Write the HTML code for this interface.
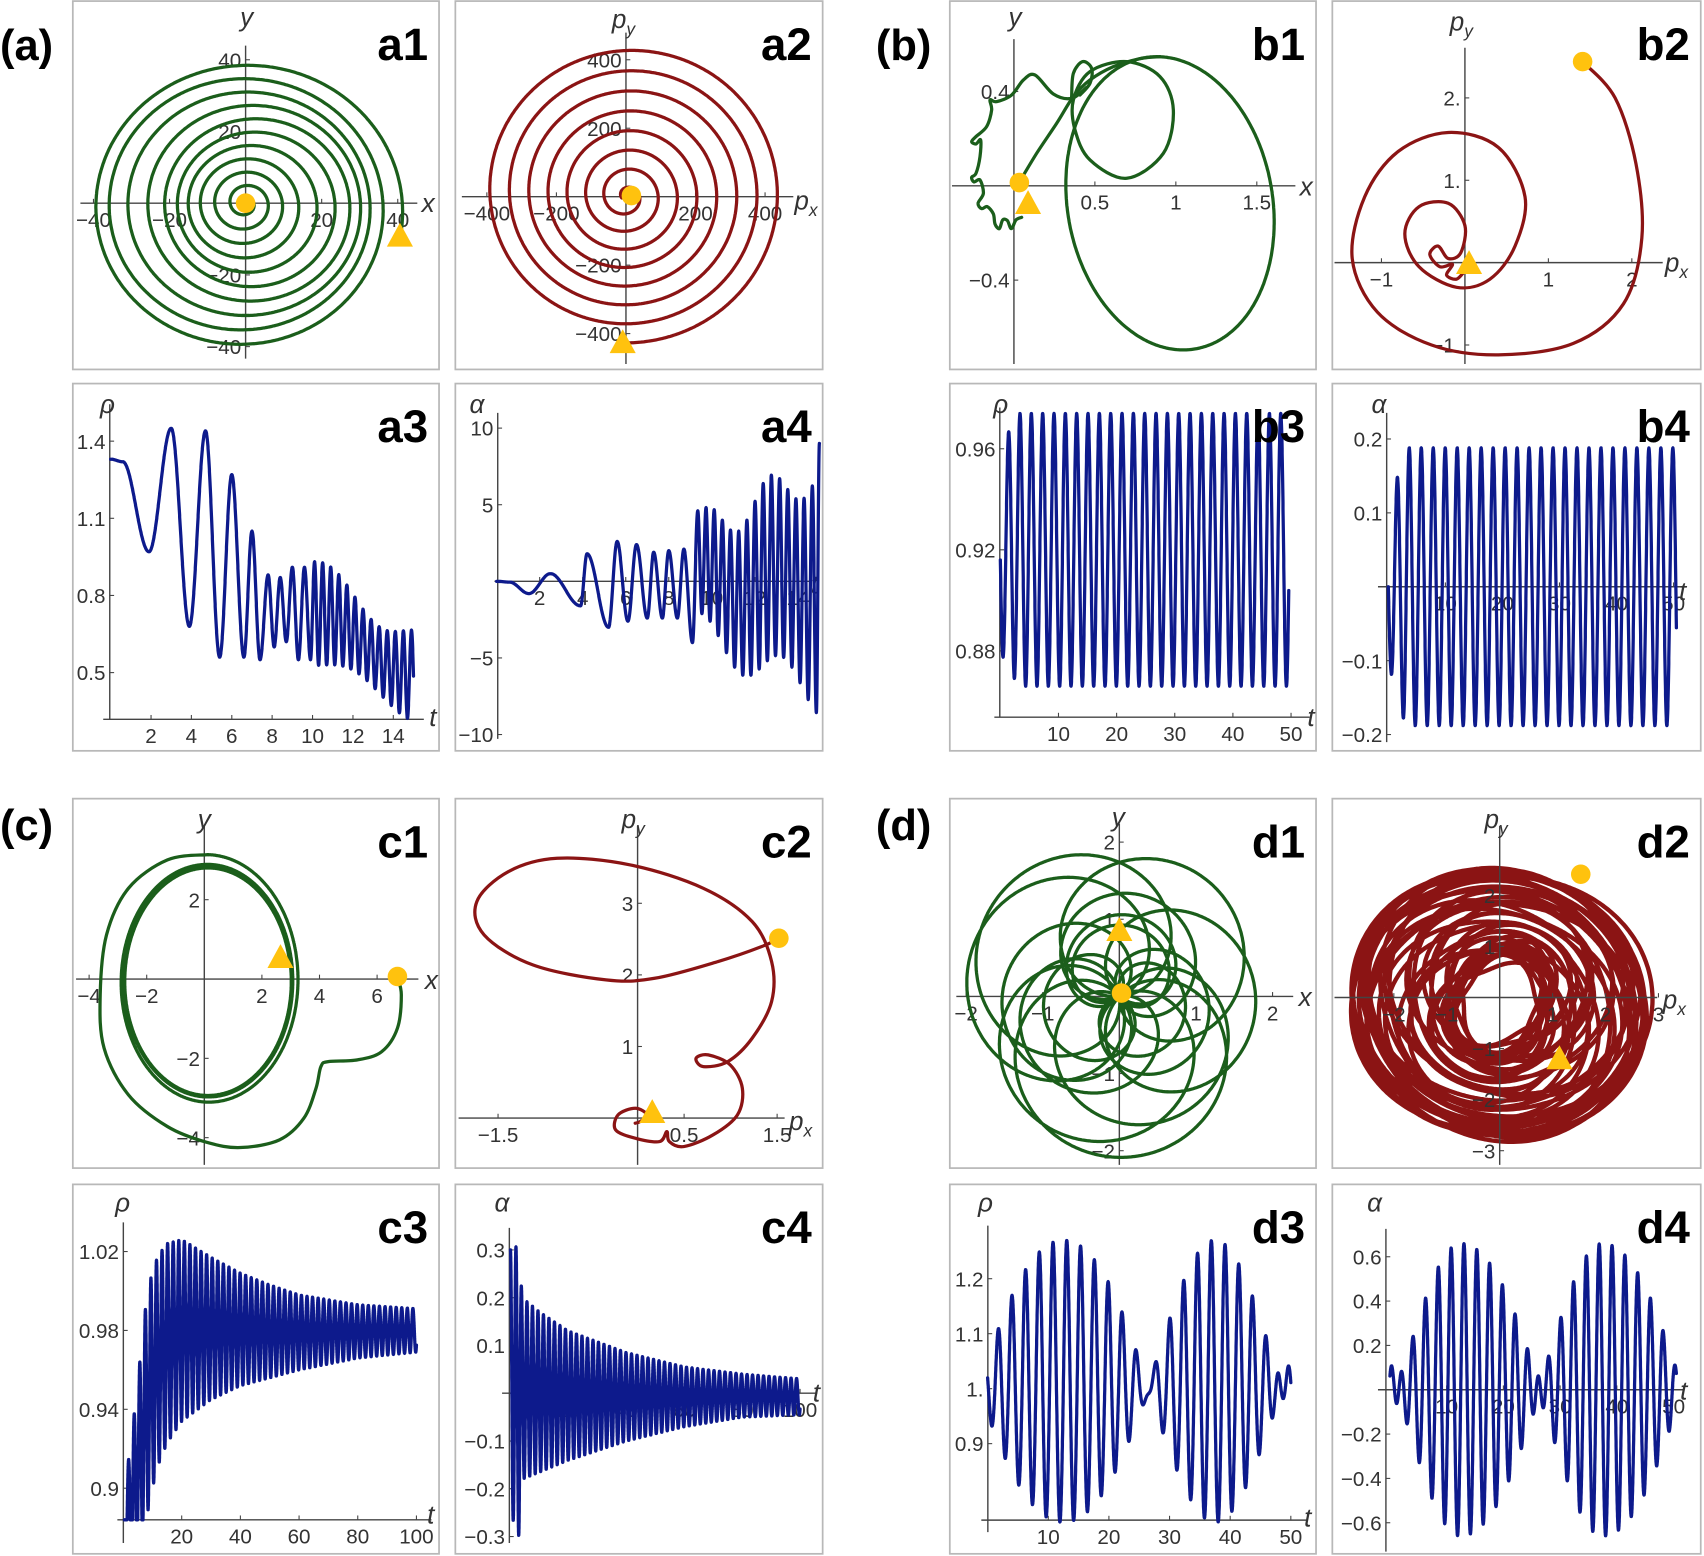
<!DOCTYPE html>
<html><head><meta charset="utf-8"><style>html,body{margin:0;padding:0;background:#fff}svg{display:block}</style></head>
<body>
<svg id="s" xmlns="http://www.w3.org/2000/svg" width="1704" height="1556" viewBox="0 0 1568 1432" preserveAspectRatio="none"></svg>
<script>
let o='';
const FF='font-family="Liberation Sans, Arial, sans-serif"';
const GR='#1b5e1b',RD='#8b1414',BL='#0d1a8c',YE='#ffc20e';
function f(n){return n.toFixed(1)}
function frame(x0,y0,x1,y1){o+=`<rect x="${x0}" y="${y0}" width="${x1-x0}" height="${y1-y0}" fill="none" stroke="#b8b8b8" stroke-width="1.6"/>`}
function txt(x,y,s,size,anchor,extra){o+=`<text x="${x}" y="${y}" font-size="${size}" text-anchor="${anchor||'start'}" ${FF} ${extra||''}>${s}</text>`}
function title(x1,y0,s){txt(x1-10,y0+54,s,42,'end','font-weight="bold" fill="#000"')}
function lab(x,y,s,sub){ if(sub) o+=`<text x="${x}" y="${y}" font-size="24" font-style="italic" ${FF} fill="#333">${s}<tspan font-size="16" dy="6">${sub}</tspan></text>`; else txt(x,y,s,24,'start','font-style="italic" fill="#333"');}
function mlab(v){return (typeof v==='string')?v:(v<0?'\u2212'+Math.abs(v):String(v))}
function axes(X,Y,xAxY,xr,yAxX,yr,xt,yt){
 o+=`<line x1="${xr[0]}" y1="${xAxY}" x2="${xr[1]}" y2="${xAxY}" stroke="#444" stroke-width="1.3"/>`;
 o+=`<line x1="${yAxX}" y1="${yr[0]}" x2="${yAxX}" y2="${yr[1]}" stroke="#444" stroke-width="1.3"/>`;
 for(const t of xt){const v=Array.isArray(t)?t[0]:t,l=Array.isArray(t)?t[1]:mlab(t);const px=X(v);
  o+=`<line x1="${f(px)}" y1="${xAxY-4}" x2="${f(px)}" y2="${xAxY}" stroke="#444" stroke-width="1"/>`;
  txt(f(px),xAxY+22,l,19,'middle','fill="#333"');}
 for(const t of yt){const v=Array.isArray(t)?t[0]:t,l=Array.isArray(t)?t[1]:mlab(t);const py=Y(v);
  o+=`<line x1="${yAxX}" y1="${f(py)}" x2="${yAxX+4}" y2="${f(py)}" stroke="#444" stroke-width="1"/>`;
  txt(yAxX-4,f(py+7),l,19,'end','fill="#333"');}
}
function poly(pts,col,w){let d='M'+f(pts[0][0])+' '+f(pts[0][1]);for(let i=1;i<pts.length;i++)d+='L'+f(pts[i][0])+' '+f(pts[i][1]);
 o+=`<path d="${d}" fill="none" stroke="${col}" stroke-width="${w}" stroke-linejoin="round" stroke-linecap="round"/>`}
function cat(p,col,w,closed){let P=p.slice();if(closed){P=[p[p.length-1]].concat(p,[p[0],p[1]]);}else{P=[p[0]].concat(p,[p[p.length-1]]);}
 let d='M'+f(P[1][0])+' '+f(P[1][1]);
 for(let i=1;i<P.length-2;i++){const a=P[i-1],b=P[i],c=P[i+1],e=P[i+2];
  d+='C'+f(b[0]+(c[0]-a[0])/6)+' '+f(b[1]+(c[1]-a[1])/6)+' '+f(c[0]-(e[0]-b[0])/6)+' '+f(c[1]-(e[1]-b[1])/6)+' '+f(c[0])+' '+f(c[1]);}
 o+=`<path d="${d}" fill="none" stroke="${col}" stroke-width="${w}" stroke-linejoin="round" stroke-linecap="round"/>`}
function dot(x,y){o+=`<circle cx="${f(x)}" cy="${f(y)}" r="9" fill="${YE}"/>`}
function tri(x,y){o+=`<polygon points="${f(x)},${f(y-13)} ${f(x-12)},${f(y+9)} ${f(x+12)},${f(y+9)}" fill="${YE}"/>`}
function ts(X,Y,fn,t0,t1,N,col,w,clipY){const p=[];for(let i=0;i<=N;i++){const t=t0+(t1-t0)*i/N;let y=Y(fn(t));if(clipY!==undefined)y=Math.min(y,clipY);p.push([X(t),y]);}poly(p,col||BL,w||3)}
function interp(tb,t){if(t<=tb[0][0])return tb[0][1];for(let i=0;i<tb.length-1;i++){if(t<=tb[i+1][0]){const s=(t-tb[i][0])/(tb[i+1][0]-tb[i][0]);return tb[i][1]+s*(tb[i+1][1]-tb[i][1]);}}return tb[tb.length-1][1]}
function ext(L){return t=>{for(let i=0;i<L.length-1;i++){if(t<=L[i+1][0]){const s=(t-L[i][0])/(L[i+1][0]-L[i][0]);return L[i][1]+(L[i+1][1]-L[i][1])*(1-Math.cos(Math.PI*s))/2;}}return L[L.length-1][1]}}

txt(0,55,'(a)',40,'start','font-weight="bold"');txt(806,55,'(b)',40,'start','font-weight="bold"');
txt(0,773,'(c)',40,'start','font-weight="bold"');txt(806,773,'(d)',40,'start','font-weight="bold"');

const C=[[67,404],[419,757],[874,1211],[1226,1565]],R=[[1,340],[353,691],[735,1075],[1090,1430]];
for(const r of R)for(const c of C)frame(c[0],r[0],c[1],r[1]);

// a1
{const ox=226,oy=187,sx=3.5,sy=3.3,X=u=>ox+sx*u,Y=v=>oy-sy*v;
axes(X,Y,oy,[74,384],ox,[42,330],[-40,-20,20,40],[40,20,-20,-40]);
lab(388,195,'x');lab(221,24,'y');
const p=[],Th=2*Math.PI*10.2,N=5000;for(let i=0;i<=N;i++){const th=Th*i/N,fr=i/N,r=1.5+39.5*fr,ph=-0.22+(Th-th);p.push([X(r*Math.cos(ph)-2.5*fr*Math.sin(fr*9)+1.5*fr),Y(r*Math.sin(ph)-1.5*fr)]);}
poly(p,GR,3);dot(226,187);tri(368,218);title(404,1,'a1');}

// a2
{const ox=576,oy=181,sx=0.32,sy=0.315,X=u=>ox+sx*u,Y=v=>oy-sy*v;
axes(X,Y,oy,[425,730],ox,[30,335],[-400,-200,200,400],[400,200,-200,-400]);
lab(731,193,'p','x');lab(563,26,'p','y');
const p=[],Th=2*Math.PI*7.8,N=5000;for(let i=0;i<=N;i++){const th=Th*i/N,fr=i/N,r=12+430*Math.pow(fr,1.05),ph=-Math.PI/2+(Th-th);p.push([X(r*Math.cos(ph)+8*fr),Y(r*Math.sin(ph)+15*fr)]);}
poly(p,RD,3);dot(581,180);tri(573,316);title(757,1,'a2');}

// b1
{const ox=933,oy=171,sx=149,sy=217,X=u=>ox+sx*u,Y=v=>oy-sy*v;
axes(X,Y,oy,[876,1192],ox,[36,335],[0.5,1,1.5],[0.4,-0.4]);
lab(1196,180,'x');lab(928,24,'y');
const Z=q=>q.map(a=>[865+0.3067*a[0],0.3067*a[1]]);
cat(Z([[237,548],[290,460],[350,370],[400,290],[450,240],[520,200],[600,176],[660,170]]),GR,3);
const e=[];for(let i=0;i<=400;i++){const ph=2*Math.PI*i/400;const y=610-440*Math.cos(ph);e.push([690+310*Math.sin(ph)+0.09*(y-610),y]);}
poly(Z(e),GR,3);
cat(Z([[400,300],[450,215],[560,185],[660,230],[700,330],[670,460],[560,535],[450,480],[405,390]]),GR,3,true);
cat(Z([[395,290],[400,220],[428,185],[455,205],[450,250],[420,285]]),GR,3);
cat(Z([[440,262],[395,295],[340,282],[285,225],[250,240],[215,285],[170,305],[150,300],[155,330],[140,380],[108,410],[95,425],[108,432],[122,420],[120,470],[108,520],[95,532],[102,546],[120,540],[130,580],[114,610],[125,626],[142,620],[160,642],[165,672],[178,686],[188,660],[202,662],[214,686],[228,660],[245,652]]),GR,3);
dot(938,168);tri(946,188);title(1211,1,'b1');}

// b2
{const ox=1348,oy=241.7,sx=76.8,sy=75.8,X=u=>ox+sx*u,Y=v=>oy-sy*v;
axes(X,Y,oy,[1228,1530],ox,[44,335],[-1,1,2],[[1,'1.'],[2,'2.'],[-1,'\u22121.']]);
lab(1532,250,'p','x');lab(1334,28,'p','y');
const q=[[1.41,2.44],[1.8,2.0],[2.05,1.2],[2.12,0.3],[1.9,-0.5],[1.3,-0.98],[0.4,-1.12],[-0.4,-1.0],[-1.05,-0.6],[-1.35,0.05],[-1.2,0.8],[-0.8,1.35],[-0.2,1.58],[0.4,1.4],[0.72,0.8],[0.6,0.2],[0.3,-0.2],[-0.1,-0.3],[-0.55,-0.05],[-0.72,0.35],[-0.55,0.68],[-0.2,0.72],[0,0.45],[-0.05,0.12],[-0.2,0.05],[-0.32,0.2],[-0.42,0.1],[-0.3,-0.05],[-0.15,-0.02],[-0.22,-0.15],[-0.1,-0.2],[0,-0.1],[0.06,-0.05]];
cat(q.map(a=>[X(a[0]),Y(a[1])]),RD,3);dot(X(1.41),Y(2.44));tri(X(0.05),Y(-0.02));title(1565,1,'b2');}

// a3
{const X=t=>101.8+18.58*t,Y=v=>406-(v-1.4)*236.7;
axes(X,Y,662,[95,390],101,[372,662],[2,4,6,8,10,12,14],[1.4,1.1,0.8,0.5]);
lab(395,668,'t');lab(92,380,'\u03c1');
const L=[[0,1.33],[0.6,1.32],[1.9,0.97],[3.0,1.45],[3.9,0.68],[4.7,1.44],[5.4,0.56],[6.0,1.27],[6.6,0.56],[7.0,1.05],[7.4,0.55],[7.8,0.88],[8.1,0.6],[8.4,0.87],[8.7,0.62],[9.0,0.91],[9.3,0.55],[9.6,0.91],[9.9,0.55]];
let t=9.9,k=0;while(t<15){t+=0.2;k++;if(k%2)L.push([t,0.91-(t-10)*0.055+0.05*Math.sin(t*1.3)]);else L.push([t,0.55-(t-10)*0.04+0.04*Math.sin(t*1.1+1)]);}
ts(X,Y,ext(L),0,15,3000,BL,3);title(404,353,'a3');}

// a4
{const X=t=>457+19.8*t,Y=v=>535-14.1*v;
axes(X,Y,535,[455,745],458,[380,680],[2,4,6,8,10,12,14],[10,5,-5,-10]);
lab(746,546,'t');lab(432,380,'\u03b1');
const L=[[0,0],[0.6,-0.05],[1.5,-0.8],[2.5,0.5],[3.9,-1.6],[4.2,1.8],[5.2,-3.0],[5.6,2.6],[6.1,-2.6],[6.5,2.4],[7.0,-2.4],[7.3,1.9],[7.7,-2.4],[8.0,2.0],[8.4,-2.4],[8.7,2.1],[9.1,-4.0],[9.35,4.6]];
let t=9.35,k=0;while(t<14.8){t+=0.19;k++;if(k%2)L.push([t,-(3+(t-9)*0.75+1.3*Math.sin(t*1.7+1))]);else L.push([t,3+(t-9)*0.7+1.3*Math.sin(t*2.1)]);}
L.push([15,9]);
ts(X,Y,ext(L),0,15,3000,BL,3);title(757,353,'a4');}

// b3
{const X=t=>920.5+5.35*t,Y=v=>413-(v-0.96)*2325;
axes(X,Y,660,[915,1205],920,[375,660],[10,20,30,40,50],[0.96,0.92,0.88]);
lab(1203,668,'t');lab(914,380,'\u03c1');
ts(X,Y,t=>{const a=0.054*Math.min(1,0.75+0.08*t);return 0.92-a*Math.sin(2*Math.PI*t/1.95+0.1);},0,49.6,3000,BL,3);title(1211,353,'b3');}

// b4
{const X=t=>1277.5+5.25*t,Y=v=>540-680*v;
axes(X,Y,540,[1268,1548],1276,[380,683],[10,20,30,40,50],[0.2,0.1,-0.1,-0.2]);
lab(1545,552,'t');lab(1262,380,'\u03b1');
ts(X,Y,t=>{const a=0.188*Math.min(1,0.55+0.15*t);return -a*Math.sin(2*Math.PI*t/2.1);},0,50.5,3000,BL,3);title(1565,353,'b4');}

// c1
{const ox=188,oy=901,sx=26.5,sy=36.5,X=u=>ox+sx*u,Y=v=>oy-sy*v;
axes(X,Y,oy,[70,385],ox,[760,1072],[-4,-2,2,4,6],[2,-2,-4]);
lab(391,910,'x');lab(182,762,'y');
const Z=q=>q.map(a=>[(70+a[0]*0.4872)/1.0867,(795+a[1]/3)/1.0867]);
cat(Z([[672,545],[680,600],[672,700],[640,770],[590,795],[530,800],[515,815],[505,880],[480,970],[430,1035],[350,1058],[280,1042],[200,995],[120,900],[70,760],[62,600],[75,420],[120,280],[200,195],[283,179]]),GR,3);
const e=[],PE=20.2,N=3000;for(let i=0;i<=N;i++){const ps=PE*i/N,s=1+0.12*Math.exp(-ps/5);e.push([283+170*s*Math.sin(ps),560-340*s*Math.cos(ps)]);}
poly(Z(e),GR,3);
const d=Z([[672,545]])[0],tr=Z([[432,490]])[0];dot(d[0],d[1]);tri(tr[0],tr[1]);title(404,735,'c1');}

// c2
{const ox=586.7,oy=1029,sx=85.6,sy=65.9,X=u=>ox+sx*u,Y=v=>oy-sy*v;
axes(X,Y,oy,[422,722],ox,[760,1072],[[-1.5,'\u22121.5'],[0.5,'0.5'],[1.5,'1.5']],[1,2,3]);
lab(726,1040,'p','x');lab(572,762,'p','y');
const Z=q=>q.map(a=>[(70+a[0]*0.4872)/1.0867,(795+a[1]/3)/1.0867]);
cat(Z([[1455,430],[1420,455],[1330,500],[1200,550],[1100,555],[950,510],[850,420],[835,320],[900,230],[1000,190],[1150,210],[1300,280],[1400,380],[1440,500],[1440,620],[1400,730],[1350,800],[1300,815],[1285,790],[1310,780],[1355,810],[1380,880],[1370,960],[1320,1020],[1260,1055],[1230,1040],[1225,1010],[1210,1040],[1160,1030],[1120,1005],[1125,960],[1160,940],[1185,960],[1170,980],[1160,985]]),RD,3);
const d=Z([[1455,430]])[0],tr=Z([[1195,955]])[0];dot(d[0],d[1]);tri(tr[0],tr[1]);title(757,735,'c2');}

// d1
{const ox=1030,oy=917,sx=70.5,sy=71,X=u=>ox+sx*u,Y=v=>oy-sy*v;
axes(X,Y,oy,[880,1190],ox,[758,1072],[-2,-1,1,2],[2,1,-1,-2]);
lab(1195,926,'x');lab(1023,760,'y');
const p=[],NL=15,T=2*Math.PI*NL,N=7000,Om=0.2618;for(let i=0;i<=N;i++){const t=T*i/N,c=0.45+0.6*Math.pow(Math.sin(t/9.5+0.8),2);
 const re=c*(Math.cos(Om*t)-Math.cos((1+Om)*t)),im=c*(Math.sin(Om*t)-Math.sin((1+Om)*t));p.push([X(re),Y(im)]);}
poly(p,GR,3);dot(1032,914);tri(1030,857);title(1211,735,'d1');}

// d2
{const ox=1380,oy=918,sx=48.7,sy=47,X=u=>ox+sx*u,Y=v=>oy-sy*v;
const p=[],TURNS=44,T=2*Math.PI*TURNS,N=15000;for(let i=0;i<=N;i++){const t=T*i/N;
 const r=86+44*Math.sin(0.29*t+0.6)+7*Math.sin(2.3*t)+4*Math.sin(0.071*t);
 p.push([1380+r*Math.cos(t),923-r*Math.sin(t)*0.96]);}
poly(p,RD,4);
axes(X,Y,oy,[1228,1525],ox,[760,1072],[-2,-1,1,2,3],[2,1,-1,-2,-3]);
lab(1530,928,'p','x');lab(1366,762,'p','y');
dot(1454.6,804.6);tri(1435,975);title(1565,735,'d2');}

// c3
{const X=t=>113.2+2.70*t,Y=v=>1151.8-(v-1.02)*1815;
axes(X,Y,1398.7,[108,397],113.5,[1125,1420],[20,40,60,80,100],[1.02,0.98,0.94,[0.9,'0.9']]);
lab(393,1402,'t');lab(106,1115,'\u03c1');
const U=[[0,0.905],[2,0.915],[4,0.94],[6,0.968],[8,0.996],[10,1.01],[12,1.018],[15,1.024],[20,1.026],[30,1.017],[40,1.009],[50,1.003],[60,0.998],[80,0.993],[100,0.991]];
const Lo=[[0,0.86],[6,0.87],[8,0.885],[10,0.9],[12,0.912],[15,0.923],[20,0.934],[30,0.945],[40,0.952],[60,0.96],[80,0.966],[100,0.969]];
ts(X,Y,t=>{const u=interp(U,t),l=interp(Lo,t);return (u+l)/2+(u-l)/2*Math.cos(2*Math.PI*t/1.9);},0.5,100,8000,BL,3,1398.7);title(404,1090,'c3');}

// c4
{const X=t=>469.7+2.665*t,Y=v=>1282.2-439.7*v;
axes(X,Y,1282.2,[462,752],468.7,[1130,1420],[20,40,60,80,100],[0.3,0.2,0.1,-0.1,-0.2,-0.3]);
lab(748,1290,'t');lab(455,1115,'\u03b1');
const U=[[0,0.3],[3,0.31],[4,0.2],[10,0.17],[20,0.13],[40,0.085],[60,0.055],[80,0.04],[100,0.03]];
const Lo=[[0,-0.25],[3,-0.3],[4,-0.18],[10,-0.165],[20,-0.14],[40,-0.1],[60,-0.07],[80,-0.05],[100,-0.045]];
ts(X,Y,t=>{const u=interp(U,t),l=interp(Lo,t);return (u+l)/2+(u-l)/2*Math.cos(2*Math.PI*t/1.9);},0,100,8000,BL,3);title(757,1090,'c4');}

// d3
{const X=t=>908.8+5.58*t,Y=v=>1278-(v-1)*506;
axes(X,Y,1399,[903,1203],909,[1128,1410],[10,20,30,40,50],[1.2,1.1,[1,'1.'],0.9]);
lab(1200,1405,'t');lab(900,1115,'\u03c1');
ts(X,Y,t=>{const e=Math.sin(Math.PI*t/25);const c=Math.cos(Math.PI*t/25);const s=-e*Math.sin(2*Math.PI*t/2.27)+0.2*c*c*Math.cos(2*Math.PI*t/2.27+1.2);const v=0.27*s;return 1+(v>0?v:v*0.9);},0,50,4000,BL,3);title(1211,1090,'d3');}

// d4
{const X=t=>1279+5.22*t,Y=v=>1279-204*v;
axes(X,Y,1279,[1268,1550],1275.3,[1131,1428],[10,20,30,40,50],[0.6,0.4,0.2,-0.2,-0.4,-0.6]);
lab(1546,1288,'t');lab(1258,1115,'\u03b1');
ts(X,Y,t=>{const e=Math.sin(Math.PI*t/25),c=Math.cos(Math.PI*t/25);return -0.66*e*Math.sin(2*Math.PI*t/2.27)+0.13*c*c*Math.sin(2*Math.PI*t/2.27+0.5)*Math.sign(c);},0,50.5,4000,BL,3);title(1565,1090,'d4');}

document.getElementById('s').innerHTML=o;
</script>
</body></html>
